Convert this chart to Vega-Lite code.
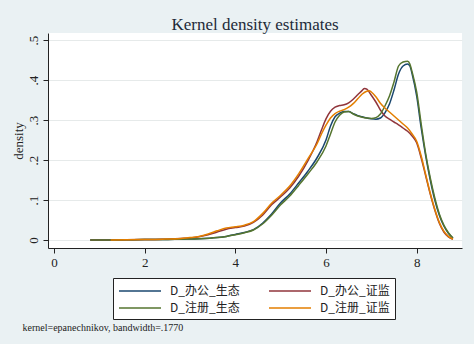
{
  "$schema": "https://vega.github.io/schema/vega-lite/v6.json",
  "width": 414,
  "height": 215,
  "autosize": "none",
  "padding": {"left": 48, "top": 33, "right": 12, "bottom": 96},
  "background": "#eaf1f3",
  "title": {"text": "Kernel density estimates", "font": "Liberation Serif", "fontSize": 17, "fontWeight": "normal", "color": "#1e2a38", "anchor": "middle", "offset": -1},
  "config": {"view": {"fill": "white", "stroke": null}},
  "datasets": {
    "kd": [
      {"x": 0.8, "d": 0, "s": "D_办公_生态"}, {"x": 1.6, "d": 0.0005, "s": "D_办公_生态"}, {"x": 2.0, "d": 0.001, "s": "D_办公_生态"}, {"x": 2.4, "d": 0.001, "s": "D_办公_生态"}, {"x": 2.8, "d": 0.002, "s": "D_办公_生态"}, {"x": 3.2, "d": 0.003, "s": "D_办公_生态"}, {"x": 3.6, "d": 0.006, "s": "D_办公_生态"}, {"x": 3.8, "d": 0.009, "s": "D_办公_生态"}, {"x": 4.0, "d": 0.014, "s": "D_办公_生态"}, {"x": 4.2, "d": 0.019, "s": "D_办公_生态"}, {"x": 4.4, "d": 0.026, "s": "D_办公_生态"}, {"x": 4.6, "d": 0.042, "s": "D_办公_生态"}, {"x": 4.8, "d": 0.065, "s": "D_办公_生态"}, {"x": 5.0, "d": 0.093, "s": "D_办公_生态"}, {"x": 5.2, "d": 0.115, "s": "D_办公_生态"}, {"x": 5.4, "d": 0.143, "s": "D_办公_生态"}, {"x": 5.6, "d": 0.172, "s": "D_办公_生态"}, {"x": 5.8, "d": 0.205, "s": "D_办公_生态"}, {"x": 6.0, "d": 0.25, "s": "D_办公_生态"}, {"x": 6.1, "d": 0.285, "s": "D_办公_生态"}, {"x": 6.2, "d": 0.308, "s": "D_办公_生态"}, {"x": 6.3, "d": 0.317, "s": "D_办公_生态"}, {"x": 6.4, "d": 0.321, "s": "D_办公_生态"}, {"x": 6.5, "d": 0.321, "s": "D_办公_生态"}, {"x": 6.6, "d": 0.316, "s": "D_办公_生态"}, {"x": 6.7, "d": 0.311, "s": "D_办公_生态"}, {"x": 6.8, "d": 0.308, "s": "D_办公_生态"}, {"x": 6.9, "d": 0.305, "s": "D_办公_生态"}, {"x": 7.0, "d": 0.303, "s": "D_办公_生态"}, {"x": 7.1, "d": 0.302, "s": "D_办公_生态"}, {"x": 7.2, "d": 0.305, "s": "D_办公_生态"}, {"x": 7.3, "d": 0.318, "s": "D_办公_生态"}, {"x": 7.4, "d": 0.34, "s": "D_办公_生态"}, {"x": 7.5, "d": 0.375, "s": "D_办公_生态"}, {"x": 7.6, "d": 0.415, "s": "D_办公_生态"}, {"x": 7.7, "d": 0.435, "s": "D_办公_生态"}, {"x": 7.8, "d": 0.44, "s": "D_办公_生态"}, {"x": 7.85, "d": 0.435, "s": "D_办公_生态"}, {"x": 7.9, "d": 0.415, "s": "D_办公_生态"}, {"x": 8.0, "d": 0.36, "s": "D_办公_生态"}, {"x": 8.1, "d": 0.28, "s": "D_办公_生态"}, {"x": 8.2, "d": 0.21, "s": "D_办公_生态"}, {"x": 8.3, "d": 0.15, "s": "D_办公_生态"}, {"x": 8.4, "d": 0.1, "s": "D_办公_生态"}, {"x": 8.5, "d": 0.062, "s": "D_办公_生态"}, {"x": 8.6, "d": 0.035, "s": "D_办公_生态"}, {"x": 8.7, "d": 0.017, "s": "D_办公_生态"}, {"x": 8.8, "d": 0.005, "s": "D_办公_生态"},

      {"x": 0.8, "d": 0, "s": "D_办公_证监"}, {"x": 1.6, "d": 0.0005, "s": "D_办公_证监"}, {"x": 2.0, "d": 0.001, "s": "D_办公_证监"}, {"x": 2.4, "d": 0.002, "s": "D_办公_证监"}, {"x": 2.8, "d": 0.004, "s": "D_办公_证监"}, {"x": 3.0, "d": 0.005, "s": "D_办公_证监"}, {"x": 3.2, "d": 0.008, "s": "D_办公_证监"}, {"x": 3.4, "d": 0.013, "s": "D_办公_证监"}, {"x": 3.6, "d": 0.02, "s": "D_办公_证监"}, {"x": 3.8, "d": 0.027, "s": "D_办公_证监"}, {"x": 4.0, "d": 0.031, "s": "D_办公_证监"}, {"x": 4.2, "d": 0.035, "s": "D_办公_证监"}, {"x": 4.4, "d": 0.044, "s": "D_办公_证监"}, {"x": 4.6, "d": 0.062, "s": "D_办公_证监"}, {"x": 4.8, "d": 0.088, "s": "D_办公_证监"}, {"x": 5.0, "d": 0.108, "s": "D_办公_证监"}, {"x": 5.2, "d": 0.13, "s": "D_办公_证监"}, {"x": 5.4, "d": 0.16, "s": "D_办公_证监"}, {"x": 5.6, "d": 0.198, "s": "D_办公_证监"}, {"x": 5.8, "d": 0.245, "s": "D_办公_证监"}, {"x": 5.9, "d": 0.275, "s": "D_办公_证监"}, {"x": 6.0, "d": 0.303, "s": "D_办公_证监"}, {"x": 6.1, "d": 0.322, "s": "D_办公_证监"}, {"x": 6.2, "d": 0.332, "s": "D_办公_证监"}, {"x": 6.3, "d": 0.336, "s": "D_办公_证监"}, {"x": 6.4, "d": 0.338, "s": "D_办公_证监"}, {"x": 6.5, "d": 0.343, "s": "D_办公_证监"}, {"x": 6.6, "d": 0.352, "s": "D_办公_证监"}, {"x": 6.7, "d": 0.363, "s": "D_办公_证监"}, {"x": 6.8, "d": 0.374, "s": "D_办公_证监"}, {"x": 6.85, "d": 0.379, "s": "D_办公_证监"}, {"x": 6.9, "d": 0.377, "s": "D_办公_证监"}, {"x": 7.0, "d": 0.362, "s": "D_办公_证监"}, {"x": 7.1, "d": 0.345, "s": "D_办公_证监"}, {"x": 7.2, "d": 0.325, "s": "D_办公_证监"}, {"x": 7.3, "d": 0.31, "s": "D_办公_证监"}, {"x": 7.4, "d": 0.302, "s": "D_办公_证监"}, {"x": 7.5, "d": 0.295, "s": "D_办公_证监"}, {"x": 7.6, "d": 0.288, "s": "D_办公_证监"}, {"x": 7.7, "d": 0.28, "s": "D_办公_证监"}, {"x": 7.8, "d": 0.272, "s": "D_办公_证监"}, {"x": 7.9, "d": 0.26, "s": "D_办公_证监"}, {"x": 8.0, "d": 0.243, "s": "D_办公_证监"}, {"x": 8.1, "d": 0.205, "s": "D_办公_证监"}, {"x": 8.2, "d": 0.16, "s": "D_办公_证监"}, {"x": 8.3, "d": 0.115, "s": "D_办公_证监"}, {"x": 8.4, "d": 0.075, "s": "D_办公_证监"}, {"x": 8.5, "d": 0.042, "s": "D_办公_证监"}, {"x": 8.6, "d": 0.02, "s": "D_办公_证监"}, {"x": 8.7, "d": 0.008, "s": "D_办公_证监"}, {"x": 8.8, "d": 0.002, "s": "D_办公_证监"},

      {"x": 0.8, "d": 0, "s": "D_注册_生态"}, {"x": 1.6, "d": 0.0005, "s": "D_注册_生态"}, {"x": 2.0, "d": 0.001, "s": "D_注册_生态"}, {"x": 2.4, "d": 0.001, "s": "D_注册_生态"}, {"x": 2.8, "d": 0.002, "s": "D_注册_生态"}, {"x": 3.2, "d": 0.003, "s": "D_注册_生态"}, {"x": 3.6, "d": 0.006, "s": "D_注册_生态"}, {"x": 3.8, "d": 0.009, "s": "D_注册_生态"}, {"x": 4.0, "d": 0.013, "s": "D_注册_生态"}, {"x": 4.2, "d": 0.018, "s": "D_注册_生态"}, {"x": 4.4, "d": 0.025, "s": "D_注册_生态"}, {"x": 4.6, "d": 0.04, "s": "D_注册_生态"}, {"x": 4.8, "d": 0.062, "s": "D_注册_生态"}, {"x": 5.0, "d": 0.088, "s": "D_注册_生态"}, {"x": 5.2, "d": 0.11, "s": "D_注册_生态"}, {"x": 5.4, "d": 0.137, "s": "D_注册_生态"}, {"x": 5.6, "d": 0.165, "s": "D_注册_生态"}, {"x": 5.8, "d": 0.195, "s": "D_注册_生态"}, {"x": 6.0, "d": 0.235, "s": "D_注册_生态"}, {"x": 6.1, "d": 0.265, "s": "D_注册_生态"}, {"x": 6.2, "d": 0.295, "s": "D_注册_生态"}, {"x": 6.3, "d": 0.312, "s": "D_注册_生态"}, {"x": 6.4, "d": 0.32, "s": "D_注册_生态"}, {"x": 6.5, "d": 0.321, "s": "D_注册_生态"}, {"x": 6.6, "d": 0.315, "s": "D_注册_生态"}, {"x": 6.7, "d": 0.31, "s": "D_注册_生态"}, {"x": 6.8, "d": 0.307, "s": "D_注册_生态"}, {"x": 6.9, "d": 0.305, "s": "D_注册_生态"}, {"x": 7.0, "d": 0.304, "s": "D_注册_生态"}, {"x": 7.1, "d": 0.306, "s": "D_注册_生态"}, {"x": 7.2, "d": 0.315, "s": "D_注册_生态"}, {"x": 7.3, "d": 0.335, "s": "D_注册_生态"}, {"x": 7.4, "d": 0.36, "s": "D_注册_生态"}, {"x": 7.5, "d": 0.395, "s": "D_注册_生态"}, {"x": 7.6, "d": 0.435, "s": "D_注册_生态"}, {"x": 7.7, "d": 0.445, "s": "D_注册_生态"}, {"x": 7.8, "d": 0.447, "s": "D_注册_生态"}, {"x": 7.85, "d": 0.44, "s": "D_注册_生态"}, {"x": 7.9, "d": 0.42, "s": "D_注册_生态"}, {"x": 8.0, "d": 0.37, "s": "D_注册_生态"}, {"x": 8.1, "d": 0.29, "s": "D_注册_生态"}, {"x": 8.2, "d": 0.215, "s": "D_注册_生态"}, {"x": 8.3, "d": 0.155, "s": "D_注册_生态"}, {"x": 8.4, "d": 0.105, "s": "D_注册_生态"}, {"x": 8.5, "d": 0.065, "s": "D_注册_生态"}, {"x": 8.6, "d": 0.037, "s": "D_注册_生态"}, {"x": 8.7, "d": 0.018, "s": "D_注册_生态"}, {"x": 8.8, "d": 0.005, "s": "D_注册_生态"},

      {"x": 1.25, "d": 0, "s": "D_注册_证监"}, {"x": 1.6, "d": 0.0005, "s": "D_注册_证监"}, {"x": 2.0, "d": 0.001, "s": "D_注册_证监"}, {"x": 2.4, "d": 0.002, "s": "D_注册_证监"}, {"x": 2.8, "d": 0.004, "s": "D_注册_证监"}, {"x": 3.0, "d": 0.006, "s": "D_注册_证监"}, {"x": 3.2, "d": 0.009, "s": "D_注册_证监"}, {"x": 3.4, "d": 0.015, "s": "D_注册_证监"}, {"x": 3.6, "d": 0.023, "s": "D_注册_证监"}, {"x": 3.8, "d": 0.03, "s": "D_注册_证监"}, {"x": 4.0, "d": 0.033, "s": "D_注册_证监"}, {"x": 4.2, "d": 0.037, "s": "D_注册_证监"}, {"x": 4.4, "d": 0.046, "s": "D_注册_证监"}, {"x": 4.6, "d": 0.066, "s": "D_注册_证监"}, {"x": 4.8, "d": 0.092, "s": "D_注册_证监"}, {"x": 5.0, "d": 0.112, "s": "D_注册_证监"}, {"x": 5.2, "d": 0.135, "s": "D_注册_证监"}, {"x": 5.4, "d": 0.166, "s": "D_注册_证监"}, {"x": 5.6, "d": 0.203, "s": "D_注册_证监"}, {"x": 5.8, "d": 0.24, "s": "D_注册_证监"}, {"x": 5.9, "d": 0.265, "s": "D_注册_证监"}, {"x": 6.0, "d": 0.287, "s": "D_注册_证监"}, {"x": 6.1, "d": 0.305, "s": "D_注册_证监"}, {"x": 6.2, "d": 0.316, "s": "D_注册_证监"}, {"x": 6.3, "d": 0.322, "s": "D_注册_证监"}, {"x": 6.4, "d": 0.326, "s": "D_注册_证监"}, {"x": 6.5, "d": 0.332, "s": "D_注册_证监"}, {"x": 6.6, "d": 0.341, "s": "D_注册_证监"}, {"x": 6.7, "d": 0.353, "s": "D_注册_证监"}, {"x": 6.8, "d": 0.365, "s": "D_注册_证监"}, {"x": 6.9, "d": 0.372, "s": "D_注册_证监"}, {"x": 6.95, "d": 0.373, "s": "D_注册_证监"}, {"x": 7.0, "d": 0.37, "s": "D_注册_证监"}, {"x": 7.1, "d": 0.358, "s": "D_注册_证监"}, {"x": 7.2, "d": 0.342, "s": "D_注册_证监"}, {"x": 7.3, "d": 0.33, "s": "D_注册_证监"}, {"x": 7.4, "d": 0.32, "s": "D_注册_证监"}, {"x": 7.5, "d": 0.31, "s": "D_注册_证监"}, {"x": 7.6, "d": 0.3, "s": "D_注册_证监"}, {"x": 7.7, "d": 0.29, "s": "D_注册_证监"}, {"x": 7.8, "d": 0.28, "s": "D_注册_证监"}, {"x": 7.9, "d": 0.265, "s": "D_注册_证监"}, {"x": 8.0, "d": 0.247, "s": "D_注册_证监"}, {"x": 8.1, "d": 0.21, "s": "D_注册_证监"}, {"x": 8.2, "d": 0.163, "s": "D_注册_证监"}, {"x": 8.3, "d": 0.117, "s": "D_注册_证监"}, {"x": 8.4, "d": 0.077, "s": "D_注册_证监"}, {"x": 8.5, "d": 0.044, "s": "D_注册_证监"}, {"x": 8.6, "d": 0.022, "s": "D_注册_证监"}, {"x": 8.7, "d": 0.009, "s": "D_注册_证监"}, {"x": 8.8, "d": 0.002, "s": "D_注册_证监"}
    ]
  },
  "data": {"name": "kd"},
  "mark": {"type": "line", "strokeWidth": 1.5, "interpolate": "monotone", "clip": true},
  "encoding": {
    "x": {
      "field": "x", "type": "quantitative",
      "scale": {"domain": [-0.132, 9.0], "nice": false, "zero": false},
      "axis": {
        "values": [0, 2, 4, 6, 8], "grid": false,
        "title": "kernel=epanechnikov, bandwidth=.1770",
        "titleFont": "Liberation Serif", "titleFontSize": 10, "titleFontWeight": "normal", "titleColor": "#222", "titleLimit": 400,
        "titleAnchor": "start", "titleAlign": "left", "titleX": -26, "titleY": 79, "titleBaseline": "middle",
        "domainColor": "#222", "tickColor": "#222", "tickSize": 5,
        "labelFont": "Liberation Serif", "labelFontSize": 13, "labelColor": "#222", "labelPadding": 3
      }
    },
    "y": {
      "field": "d", "type": "quantitative",
      "scale": {"domain": [-0.02, 0.5175], "nice": false, "zero": false},
      "axis": {
        "values": [0, 0.1, 0.2, 0.3, 0.4, 0.5],
        "labelExpr": "datum.value == 0 ? '0' : replace(format(datum.value, '.1f'), '0.', '.')",
        "title": "density", "titleFont": "Liberation Serif", "titleFontSize": 13, "titleFontWeight": "normal", "titleColor": "#222", "titlePadding": 2,
        "grid": true, "gridColor": "#e6eaea", "gridWidth": 1,
        "domainColor": "#222", "tickColor": "#222", "tickSize": 5,
        "labelAngle": 270, "labelAlign": "center", "labelBaseline": "bottom",
        "labelFont": "Liberation Serif", "labelFontSize": 13, "labelColor": "#222", "labelPadding": 3
      }
    },
    "color": {
      "field": "s", "type": "nominal",
      "scale": {"domain": ["D_办公_生态", "D_办公_证监", "D_注册_生态", "D_注册_证监"], "range": ["#1a476f", "#90353b", "#55752f", "#e37e00"]},
      "legend": {
        "title": null, "orient": "none", "legendX": 65, "legendY": 245, "direction": "horizontal", "columns": 2,
        "symbolType": "M-1,0H5", "symbolSize": 196, "symbolStrokeWidth": 1.5,
        "labelFont": "Noto Sans CJK SC", "labelFontSize": 12, "labelColor": "#222", "labelOffset": 36,
        "columnPadding": 26, "rowPadding": 3,
        "strokeColor": "#222", "fillColor": "white", "padding": 5
      }
    }
  }
}
